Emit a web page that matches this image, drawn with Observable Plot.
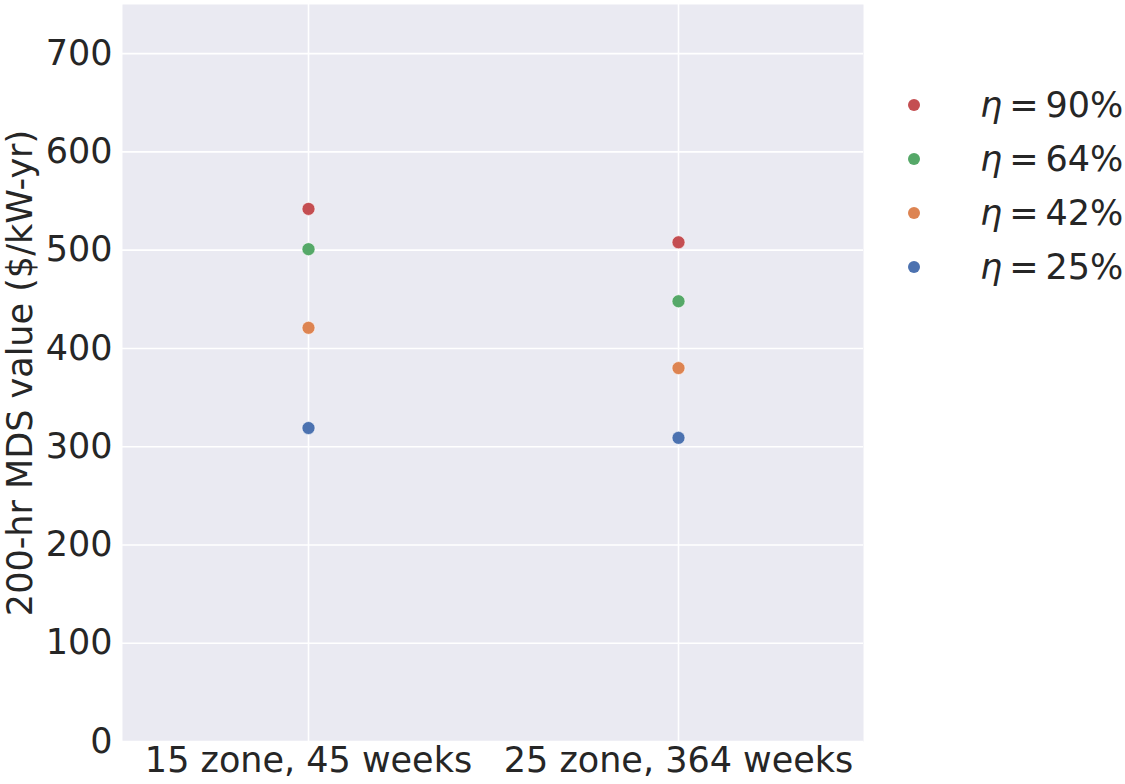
<!DOCTYPE html>
<html>
<head>
<meta charset="utf-8">
<script src="https://cdn.jsdelivr.net/npm/d3@7"></script>
<script src="https://cdn.jsdelivr.net/npm/@observablehq/plot@0.6"></script>
<style>
  html, body { margin: 0; padding: 0; background: #fff; }
  body { width: 1125px; height: 784px; overflow: hidden; font-family: "DejaVu Sans", sans-serif; color: #262626; }
  #wrap { display: flex; flex-direction: row; align-items: flex-start; }
  #legend { padding-top: 78px; }
  .row { display: flex; align-items: center; height: 54px; font-size: 35px; }
  .sw { width: 12px; height: 12px; border-radius: 50%; margin-left: 38px; margin-right: 60px; }
  .eta { font-style: italic; }
</style>
</head>
<body>
<div id="wrap"><div id="chart"></div><div id="legend"></div></div>
<script>
const categories = ["15 zone, 45 weeks", "25 zone, 364 weeks"];
const seriesNames = ["90%", "64%", "42%", "25%"];
const seriesColors = ["#C44E52", "#55A868", "#DD8452", "#4C72B0"];
const eta90 = [542, 508];
const eta64 = [501, 448];
const eta42 = [421, 380];
const eta25 = [319, 309];
const yTicks = [0, 100, 200, 300, 400, 500, 600, 700];

const seriesValues = [eta90, eta64, eta42, eta25];
const data = [];
seriesNames.forEach((s, i) => {
  categories.forEach((c, j) => data.push({ category: c, series: s, value: seriesValues[i][j] }));
});

const chart = Plot.plot({
  width: 870,
  height: 784,
  marginLeft: 122,
  marginRight: 7,
  marginTop: 4,
  marginBottom: 43,
  style: { fontFamily: "DejaVu Sans, sans-serif", fontSize: "35px", color: "#262626", background: "#fff", overflow: "visible" },
  x: { type: "point", domain: categories, padding: 0.5, label: null, tickSize: 0, tickPadding: 6 },
  y: { domain: [0, 750], ticks: yTicks, tickSize: 0, tickPadding: 10, label: "200-hr MDS value ($/kW-yr)", labelAnchor: "center", labelArrow: "none", labelOffset: 115 },
  color: { domain: seriesNames, range: seriesColors },
  marks: [
    Plot.frame({ fill: "#EAEAF2", stroke: null }),
    Plot.gridY(yTicks, { stroke: "#fff", strokeOpacity: 1, strokeWidth: 1.6 }),
    Plot.gridX(categories, { stroke: "#fff", strokeOpacity: 1, strokeWidth: 1.6 }),
    Plot.dot(data, { x: "category", y: "value", fill: "series", r: 6.5, stroke: "#fff", strokeWidth: 0.6 })
  ]
});
document.getElementById("chart").appendChild(chart);

const legend = document.getElementById("legend");
seriesNames.forEach((s, i) => {
  const row = document.createElement("div");
  row.className = "row";
  const sw = document.createElement("div");
  sw.className = "sw";
  sw.style.background = seriesColors[i];
  const t = document.createElement("div");
  t.innerHTML = '<span class="eta">η</span>&#8201;=&#8201;' + s;
  row.appendChild(sw);
  row.appendChild(t);
  legend.appendChild(row);
});
</script>
</body>
</html>
